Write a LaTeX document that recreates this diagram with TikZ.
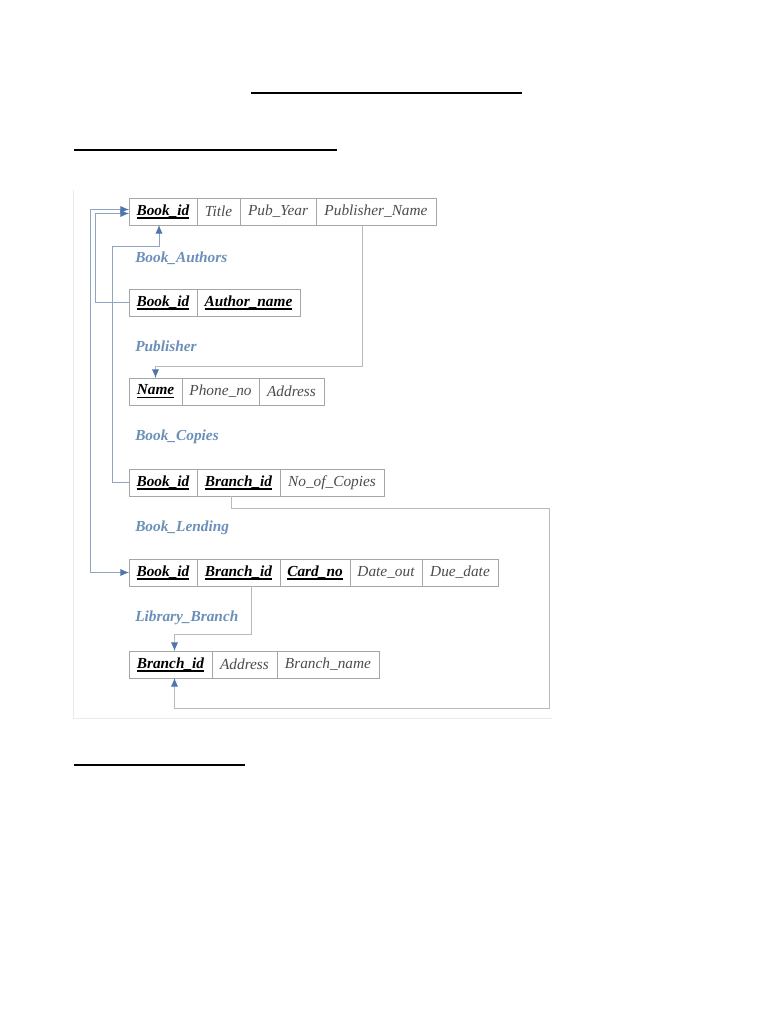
\documentclass[tikz,border=0pt]{standalone}
\usepackage{fontspec}
\setmainfont{Liberation Serif}
\usepackage{xcolor}
\definecolor{linkblue}{rgb}{0.56,0.64,0.76}
\definecolor{tipblue}{rgb}{0.31,0.46,0.68}
\definecolor{labelblue}{rgb}{0.42,0.56,0.72}
\usepackage{tikz}
\usetikzlibrary{positioning}
\usetikzlibrary{arrows.meta}
\tikzset{>={Latex[length=6.5pt,width=5.5pt,color=tipblue]}}
\newcommand{\pk}[1]{\setbox0\hbox{\textbf{#1}}\rlap{\vrule width\wd0 height -1.6pt depth 2.7pt}\box0}

\begin{document}
\begin{tikzpicture}[x=0.75pt,y=-0.75pt,
    cell/.style={draw=gray!70,line width=0.6pt,minimum height=20.25pt,inner sep=0pt,outer sep=0pt,
      font=\fontsize{11.5}{13}\selectfont\itshape,text=black!70},
    keycell/.style={cell,text=black},
    relname/.style={anchor=west,inner sep=0pt,font=\fontsize{11.5}{13}\selectfont\bfseries\itshape,text=labelblue},
    conn/.style={draw=linkblue,line width=0.7pt},
    connr/.style={draw=gray!55,line width=0.7pt}]
  \useasboundingbox (0,0) rectangle (768,1024);
  \draw[line width=1.6pt] (251,93) -- (522,93);
  \draw[line width=1.2pt] (74,150) -- (337,150);
  \draw[line width=1.5pt] (74,765) -- (245,765);
  \draw[black!8,line width=0.6pt] (73,190) -- (73,718) -- (552,718);

  % Book
  \node[keycell,minimum width=51pt,anchor=north west] (bid) at (129,198) {\pk{Book\_id}};
  \node[cell,minimum width=32.25pt,right=0pt of bid] (btitle) {Title};
  \node[cell,minimum width=57pt,right=0pt of btitle] (byear) {Pub\_Year};
  \node[cell,minimum width=90pt,right=0pt of byear] (bpub) {Publisher\_Name};

  \node[relname] (lauthors) at (135,258) {Book\_Authors};
  \node[keycell,minimum width=51pt,anchor=north west] (aid) at (129,289) {\pk{Book\_id}};
  \node[keycell,minimum width=77.25pt,right=0pt of aid] (aname) {\pk{Author\_name}};

  \node[relname] (lpublisher) at (135,346) {Publisher};
  \node[keycell,minimum width=39.75pt,anchor=north west] (pname) at (129,378) {\pk{Name}};
  \node[cell,minimum width=57.75pt,right=0pt of pname] (pphone) {Phone\_no};
  \node[cell,minimum width=48.75pt,right=0pt of pphone] (paddr) {Address};

  \node[relname] (lcopies) at (135,437) {Book\_Copies};
  \node[keycell,minimum width=51pt,anchor=north west] (cid) at (129,469) {\pk{Book\_id}};
  \node[keycell,minimum width=62.25pt,right=0pt of cid] (cbranch) {\pk{Branch\_id}};
  \node[cell,minimum width=78pt,right=0pt of cbranch] (ccopies) {No\_of\_Copies};

  \node[relname] (llending) at (135,528) {Book\_Lending};
  \node[keycell,minimum width=51pt,anchor=north west] (lid) at (129,559) {\pk{Book\_id}};
  \node[keycell,minimum width=62.25pt,right=0pt of lid] (lbranch) {\pk{Branch\_id}};
  \node[keycell,minimum width=52.5pt,right=0pt of lbranch] (lcard) {\pk{Card\_no}};
  \node[cell,minimum width=54pt,right=0pt of lcard] (lout) {Date\_out};
  \node[cell,minimum width=57pt,right=0pt of lout] (ldue) {Due\_date};

  \node[relname] (llibrary) at (135,618) {Library\_Branch};
  \node[keycell,minimum width=62.25pt,anchor=north west] (rbranch) at (129,651) {\pk{Branch\_id}};
  \node[cell,minimum width=48.75pt,right=0pt of rbranch] (raddr) {Address};
  \node[cell,minimum width=76.5pt,right=0pt of raddr] (rname) {Branch\_name};

  % connectors
  \coordinate (xa) at (95,0);
  \coordinate (xb) at (90,0);
  \coordinate (yc) at (112,246);
  \coordinate (yp) at (0,366);
  \coordinate (cr) at (549,508);
  \coordinate (cb) at (549,708);
  \coordinate (yl) at (0,634);
  \draw[conn,->] (aid.west) -- (aid.west -| xa) -- ([yshift=-1.5pt]xa |- bid.west) -- ([yshift=-1.5pt]bid.west);
  \draw[conn,<->] ([yshift=1.5pt]bid.west) -- ([yshift=1.5pt]xb |- bid.west) -- (xb |- lid.west) -- (lid.west);
  \draw[conn,->] (cid.west) -| (yc) -| ([xshift=-3pt]bid.south);
  \draw[connr,->] ([xshift=-10pt]bpub.south) |- (yp -| pname.north) -- (pname.north);
  \draw[connr,->] ([xshift=-5pt]cbranch.south) |- (cr) -- (cb) -| ([xshift=3pt]rbranch.south);
  \draw[connr,->] ([xshift=10pt]lbranch.south) |- ([xshift=3pt]yl -| rbranch.north) -- ([xshift=3pt]rbranch.north);
\end{tikzpicture}
\end{document}
